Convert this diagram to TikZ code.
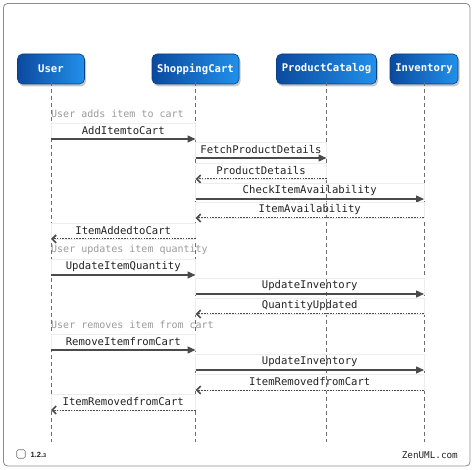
\documentclass[tikz,border=0pt]{standalone}
\usepackage{fontspec}
\setmainfont{DejaVu Sans Mono}
\setsansfont{Liberation Sans}
\usetikzlibrary{arrows.meta,shadows,calc}
\definecolor{pdark}{HTML}{0B4A9E}
\definecolor{plight}{HTML}{2290EA}
\definecolor{linec}{HTML}{4A4A4A}
\definecolor{txtc}{HTML}{222222}
\definecolor{cmtc}{HTML}{9A9A9A}
\newcommand\mymsg[6]{%
  \coordinate (#1s) at (#2 |- 0,#4);
  \coordinate (#1e) at (#3 |- 0,#4);
  \draw[band] ($(#1s)+(0,-16)$) rectangle (#1e);
  \draw[#6] (#1s) -- (#1e);
  \node[msglabel] (#1l) at ($(#1s)!0.5!(#1e)+(0,-8.5)$) {#5};
}
\begin{document}
\begin{tikzpicture}[x=1pt,y=-1pt,
  part/.style={rounded corners=5pt, left color=pdark, right color=plight,
    draw=pdark!85!black, line width=0.6pt, text=white,
    font=\fontsize{10.6}{12}\selectfont\bfseries, minimum height=30pt, inner sep=0pt,
    drop shadow={shadow xshift=1.5pt, shadow yshift=-2.5pt, opacity=0.22, fill=black}},
  lifeline/.style={draw=linec!80, line width=0.8pt, dash pattern=on 4pt off 3pt},
  band/.style={draw=black!7, line width=0.8pt},
  callmsg/.style={draw=linec, line width=1.3pt, -{Triangle[length=8pt,width=7pt]}},
  retmsg/.style={draw=linec, line width=1pt, dash pattern=on 1.6pt off 1.2pt,
    -{Straight Barb[length=4pt,width=8pt,line width=1.6pt]}},
  msglabel/.style={text=txtc, font=\fontsize{10.6}{12}\selectfont, inner sep=0pt},
  comment/.style={text=cmtc, font=\fontsize{10}{12}\selectfont, inner sep=0pt, anchor=west},
  frame/.style={draw=black!45, line width=0.8pt, rounded corners=4pt}
]
\useasboundingbox (0,0) rectangle (474,470);
\draw[frame] (3.5,3.5) rectangle (470,466);

% participants
\node[part, minimum width=67pt] (User) at (51,69) {User};
\node[part, minimum width=87pt] (Cart) at (195.5,69) {ShoppingCart};
\node[part, minimum width=100pt] (Cat) at (326.5,69) {ProductCatalog};
\node[part, minimum width=68pt] (Inv) at (424,69) {Inventory};

% lifelines
\foreach \p in {User,Cart,Cat,Inv}{
  \coordinate (\p end) at (\p |- 0,442);
  \draw[lifeline] ($(\p.south)+(0,-2)$) -- (\p end);
}

% comments
\node[comment] (c1) at (User |- 0,114) {User adds item to cart};
\node[comment] (c2) at (User |- 0,250) {User updates item quantity};
\node[comment] (c3) at (User |- 0,325) {User removes item from cart};

% messages
\mymsg{m1}{User}{Cart}{139}{AddItemtoCart}{callmsg}
\mymsg{m2}{Cart}{Cat}{158}{FetchProductDetails}{callmsg}
\mymsg{m3}{Cat}{Cart}{179}{ProductDetails}{retmsg}
\mymsg{m4}{Cart}{Inv}{199}{CheckItemAvailability}{callmsg}
\mymsg{m5}{Inv}{Cart}{218}{ItemAvailability}{retmsg}
\mymsg{m6}{Cart}{User}{239}{ItemAddedtoCart}{retmsg}
\mymsg{m7}{User}{Cart}{275}{UpdateItemQuantity}{callmsg}
\mymsg{m8}{Cart}{Inv}{294}{UpdateInventory}{callmsg}
\mymsg{m9}{Inv}{Cart}{314}{QuantityUpdated}{retmsg}
\mymsg{m10}{User}{Cart}{350}{RemoveItemfromCart}{callmsg}
\mymsg{m11}{Cart}{Inv}{370}{UpdateInventory}{callmsg}
\mymsg{m12}{Inv}{Cart}{390}{ItemRemovedfromCart}{retmsg}
\mymsg{m13}{Cart}{User}{410}{ItemRemovedfromCart}{retmsg}

% footer
\node[draw=black!55, line width=0.7pt, rounded corners=1.5pt, minimum size=8.5pt, inner sep=0pt] (chk) at (21,454) {};
\node[anchor=west, inner sep=0pt, text=txtc, font=\sffamily\bfseries\fontsize{7.5}{9}\selectfont] (ver) at (30.5,455) {1.2.\raisebox{-0.6pt}{\fontsize{5.5}{6}\selectfont 3}};
\node[anchor=east, inner sep=0pt, text=txtc, font=\fontsize{9.3}{11}\selectfont] (zen) at (458,455) {ZenUML.com};
\end{tikzpicture}
\end{document}
